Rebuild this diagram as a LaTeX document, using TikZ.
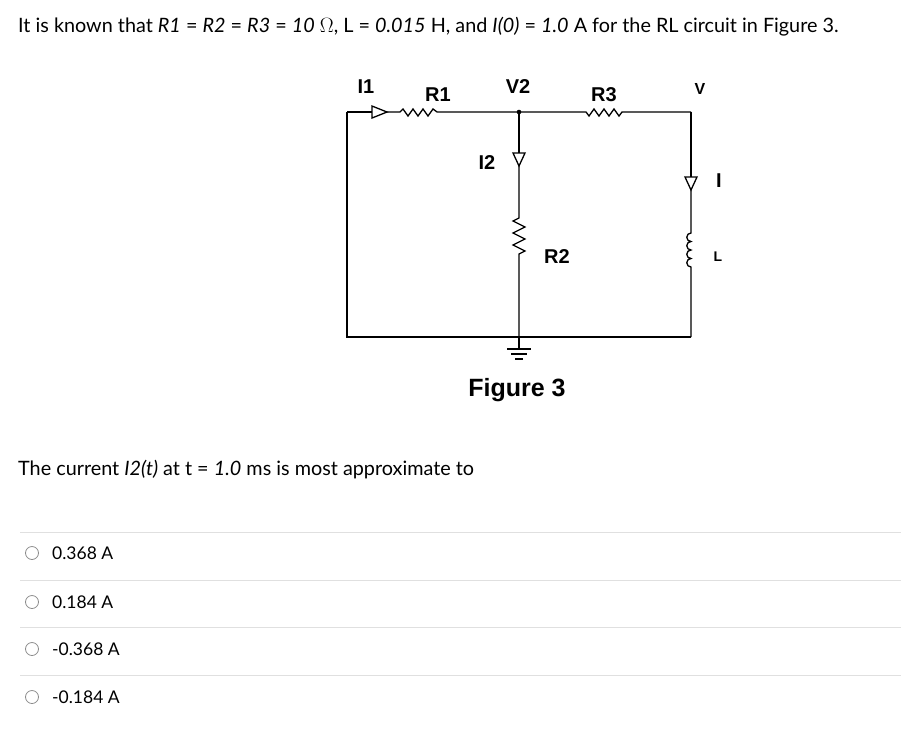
\documentclass[tikz,border=0pt]{standalone}
\usepackage{fontspec}
\setmainfont{Lato}
\newfontfamily\arl{Liberation Sans}
\begin{document}
\begin{tikzpicture}[x=1pt,y=-1pt,
  wire/.style={line width=1.3pt},
  lbl/.style={font=\arl\bfseries\fontsize{20}{20}\selectfont},
  txt/.style={font=\fontsize{19.8}{22}\selectfont,anchor=west,inner sep=0},
  sep/.style={draw=black!12,line width=0.8pt},
  radio/.style={draw=black!45,line width=0.8pt}]
\useasboundingbox (0,0) rectangle (901,747);
\node[txt] (q) at (18,27) {It is known that \textit{R1} = \textit{R2} = \textit{R3} = \textit{10} $\Omega$, L = \textit{0.015} H, and \textit{I(0)} = \textit{1.0} A for the RL circuit in Figure 3.};
\coordinate (tl) at (347,112); \coordinate (bl) at (347,337);
\coordinate (tm) at (519,112); \coordinate (bm) at (519,337);
\coordinate (tr) at (691,112); \coordinate (br) at (691,337);
\draw[wire] (tl) -- (372,112);
\draw[wire] (372,106) -- (387,112) -- (372,118) -- cycle;
\draw[wire] (387,112) -- (400,112) -- (403,109) -- (408,116) -- (413,109) -- (418,116) -- (423,109) -- (428,116) -- (433,109) -- (437,112) -- (tm);
\draw[wire] (tm) -- (586,112) -- (589,116) -- (594,109) -- (599,116) -- (604,109) -- (609,116) -- (614,109) -- (619,116) -- (622,112) -- (tr);
\draw[wire] (tm) -- (519,153);
\draw[wire] (513,153) -- (525,153) -- (519,166) -- cycle;
\draw[wire] (519,166) -- (519,218) -- (513,221) -- (525,227) -- (513,233) -- (525,239) -- (513,245) -- (525,251) -- (519,254) -- (bm);
\fill (tm) circle (2.3);
\draw[wire] (tr) -- (691,177);
\draw[wire] (685,177) -- (697,177) -- (691,190) -- cycle;
\draw[wire] (691,190) -- (691,233)
  arc[start angle=270,end angle=90,radius=4.25] arc[start angle=270,end angle=90,radius=4.25]
  arc[start angle=270,end angle=90,radius=4.25] arc[start angle=270,end angle=90,radius=4.25]
  -- (br);
\draw[wire] (tl) -- (bl) -- (bm) -- (br);
\draw[wire] (bm) -- (519,349);
\draw[wire] (507,349) -- (531,349) (511,354) -- (527,354) (515,359) -- (523,359);
\node[lbl] (li1) at (366,87) {I1};
\node[lbl] (lr1) at (438,95) {R1};
\node[lbl] (lv2) at (518,87) {V2};
\node[lbl] (lr3) at (604,95) {R3};
\node[lbl,font=\arl\bfseries\fontsize{16}{16}\selectfont] (lv) at (700,89) {V};
\node[lbl] (li2) at (487,163) {I2};
\node[lbl] (lr2) at (557,257) {R2};
\node[lbl] (li) at (719,181) {I};
\node[lbl,font=\arl\bfseries\fontsize{14}{14}\selectfont] (ll) at (718,257) {L};
\node[lbl,font=\arl\bfseries\fontsize{25}{25}\selectfont] (fig) at (517,390) {Figure 3};
\node[txt] (q2) at (18,470) {The current \textit{I2(t)} at t = \textit{1.0} ms is most approximate to};
\foreach \y in {532,580,627,675} \draw[sep] (20,\y) -- (901,\y);
\foreach \y/\t [count=\i] in {553/0.368 A,602/0.184 A,649/-0.368 A,697/-0.184 A}{
  \draw[radio] (32,\y) circle (6.5);
  \node[txt,font=\fontsize{17.5}{19}\selectfont] (o\i) at (52,\y) {\t};
}
\end{tikzpicture}
\end{document}
